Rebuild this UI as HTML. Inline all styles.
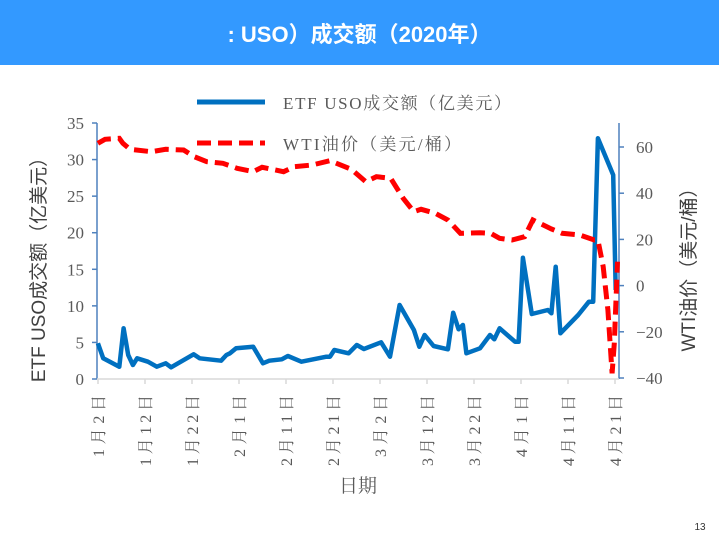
<!DOCTYPE html>
<html><head><meta charset="utf-8"><style>
body{margin:0;width:719px;height:537px;background:#fff;overflow:hidden;position:relative;font-family:"Liberation Serif","Noto Serif CJK SC",serif}
.bar{position:absolute;left:0;top:0;width:719px;height:65px;background:#3399ff}
.bar div{position:absolute;left:0;width:719px;top:17px;text-align:center;color:#fff;font:bold 22px "Liberation Sans","Noto Sans CJK SC",sans-serif}
</style></head><body>
<div class="bar"><div>: USO）成交额（2020年）</div></div>
<svg id="s" width="719" height="537" style="position:absolute;left:0;top:0" font-family="Liberation Serif, Noto Serif CJK SC, serif" fill="#595959">
<g stroke="#4f81bd" stroke-width="1.5" fill="none">
<line x1="97" y1="123" x2="97" y2="379"/><line x1="619" y1="123" x2="619" y2="379"/>
<line x1="97" y1="379" x2="619" y2="379" stroke="#d9d9d9"/>
</g>
<g id="lt" stroke="#4f81bd" stroke-width="1.5"></g>
<g id="labs" font-size="17"></g>
<line x1="197" y1="102" x2="265" y2="102" stroke="#0070c0" stroke-width="5"/>
<text x="283" y="109" font-size="17" textLength="228" lengthAdjust="spacing">ETF USO成交额（亿美元）</text>
<line x1="197" y1="143" x2="265" y2="143" stroke="#ff0000" stroke-width="5" stroke-dasharray="14,7"/>
<text x="283" y="150" font-size="17" textLength="178" lengthAdjust="spacing">WTI油价（美元/桶）</text>
<polyline id="b" fill="none" stroke="#0070c0" stroke-width="4.5" stroke-linejoin="round"/>
<polyline id="r" fill="none" stroke="#ff0000" stroke-width="5" stroke-dasharray="14,7"/>
<text transform="translate(45,265) rotate(-90)" text-anchor="middle" font-size="19" font-family="Liberation Sans, Noto Sans CJK SC, sans-serif" fill="#404040">ETF USO成交额（亿美元）</text>
<text transform="translate(695,265) rotate(-90)" text-anchor="middle" font-size="19" font-family="Liberation Sans, Noto Sans CJK SC, sans-serif" fill="#404040">WTI油价（美元/桶）</text>
<text x="358" y="492" text-anchor="middle" font-size="19">日期</text>
<text x="700" y="530" text-anchor="middle" font-size="10" font-family="Liberation Sans, sans-serif" fill="#333">13</text>
</svg>
<script>
var B=[[50,700],[65,745],[110,770],[122,655],[135,735],[148,765],[160,745],[190,755],[215,770],[240,760],[255,772],[318,733],[335,745],[395,752],[410,735],[420,730],[437,715],[485,710],[512,760],[530,752],[565,748],[582,738],[620,755],[690,740],[700,740],[712,720],[752,730],[775,705],[795,717],[843,697],[868,740],[895,585],[935,660],[950,710],[965,675],[990,708],[1030,718],[1045,608],[1060,658],[1072,645],[1082,730],[1120,715],[1148,675],[1160,688],[1175,655],[1218,695],[1228,695],[1240,443],[1265,612],[1310,600],[1320,610],[1332,470],[1345,670],[1395,615],[1425,575],[1437,575],[1450,85],[1493,195],[1500,540]];
var R=[[50,100],[70,88],[110,85],[120,100],[140,118],[200,125],[240,118],[290,120],[320,140],[355,155],[400,160],[440,175],[485,185],[510,172],[570,185],[600,170],[650,165],[700,152],[760,178],[800,215],[830,200],[870,205],[905,265],[935,305],[955,298],[995,310],[1030,330],[1065,370],[1120,368],[1150,370],[1175,385],[1210,390],[1245,380],[1268,330],[1320,357],[1350,370],[1400,375],[1440,390],[1450,390],[1465,470],[1478,600],[1490,790],[1496,700],[1505,455]];
function f(a){return a.map(p=>(p[0]/2.8+80).toFixed(1)+","+(p[1]/3+110).toFixed(1)).join(" ")}
document.getElementById("b").setAttribute("points",f(B));
document.getElementById("r").setAttribute("points",f(R));
var h="",t="";
for(var i=0;i<=7;i++){var y=379-i*36.57;t+='<line x1="92" y1="'+y+'" x2="97" y2="'+y+'"/>';h+='<text x="84" y="'+(y+6)+'" text-anchor="end">'+(i*5)+'</text>';}
for(var i=0;i<=5;i++){var v=60-i*20,y=147+i*46.2;t+='<line x1="619" y1="'+y+'" x2="624" y2="'+y+'"/>';h+='<text x="636" y="'+(y+6)+'">'+(v<0?"−"+(-v):v)+'</text>';}
var L=["1月2日","1月12日","1月22日","2月1日","2月11日","2月21日","3月2日","3月12日","3月22日","4月1日","4月11日","4月21日"];
for(var i=0;i<12;i++){var x=98+i*47.0,n=L[i].length;t+='<line x1="'+x+'" y1="379" x2="'+x+'" y2="384" stroke="#d9d9d9"/>';h+='<text transform="translate('+(x+6)+',395) rotate(-90)" text-anchor="end" font-size="16" textLength="'+(n==4?62:71)+'" lengthAdjust="spacing">'+L[i]+'</text>';}
document.getElementById("lt").innerHTML=t;document.getElementById("labs").innerHTML=h;
</script>
</body></html>
